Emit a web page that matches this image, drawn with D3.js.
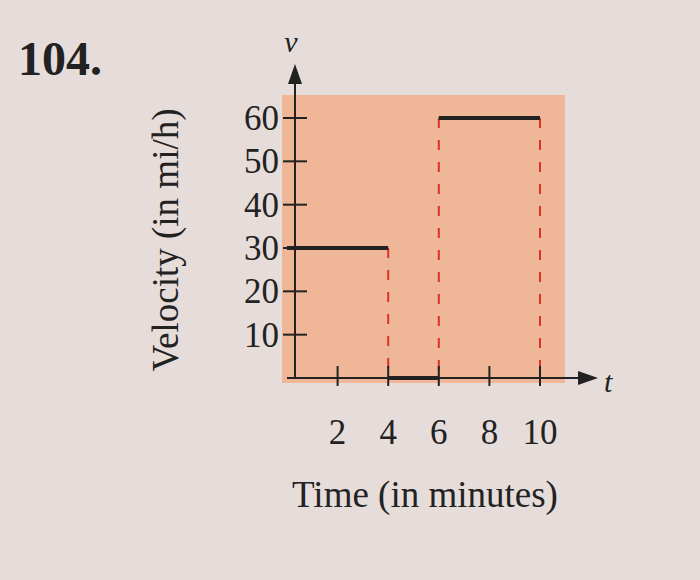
<!DOCTYPE html><html><head><script src="https://d3js.org/d3.v7.min.js"></script>
<style>body{margin:0;background:#e6dcd9}</style></head><body><script>
const xTicks=[2,4,6,8,10];
const yTicks=[10,20,30,40,50,60];
const segStart=[0,4,6];
const segEnd=[4,6,10];
const segVal=[30,0,60];
const dashedAt=[4,6,10];
const W=700,H=580;
const svg=d3.select("body").append("svg").attr("width",W).attr("height",H).style("font-family","Liberation Serif");
svg.append("rect").attr("width",W).attr("height",H).attr("fill","#e6dcd9");
const x=d3.scaleLinear().domain([0,10]).range([287,540]);
const y=d3.scaleLinear().domain([0,60]).range([378,118]);
svg.append("rect").attr("x",282).attr("y",95).attr("width",283).attr("height",288).attr("fill","#efb697");
svg.append("text").attr("x",18).attr("y",75).attr("font-size",48).attr("font-weight","bold").attr("fill","#222").text("104.");
dashedAt.forEach((d,i)=>svg.append("line").attr("x1",x(d)).attr("x2",x(d)).attr("y1",y(segVal[i===0?0:2])).attr("y2",y(0)).attr("stroke","#e0302a").attr("stroke-width",2).attr("stroke-dasharray","10,12"));
const g=svg.append("g").attr("stroke","#222").attr("stroke-width",2);
g.append("line").attr("x1",x(0)).attr("x2",585).attr("y1",y(0)).attr("y2",y(0));
g.append("line").attr("x1",x(0)+8).attr("x2",x(0)+8).attr("y1",y(0)).attr("y2",78);
svg.append("path").attr("d",`M${x(0)+8},64 L${x(0)+1},84 L${x(0)+15},84Z`).attr("fill","#222");
svg.append("path").attr("d",`M598,${y(0)} L578,${y(0)-7} L578,${y(0)+7}Z`).attr("fill","#222");
yTicks.forEach(t=>{g.append("line").attr("x1",x(0)-4).attr("x2",x(0)+20).attr("y1",y(t)).attr("y2",y(t));
 svg.append("text").attr("x",x(0)-8).attr("y",y(t)+12).attr("text-anchor","end").attr("font-size",35).attr("fill","#222").text(t);});
xTicks.forEach(t=>{g.append("line").attr("x1",x(t)).attr("x2",x(t)).attr("y1",y(0)-12).attr("y2",y(0)+8);
 svg.append("text").attr("x",x(t)).attr("y",444).attr("text-anchor","middle").attr("font-size",35).attr("fill","#222").text(t);});
segStart.forEach((s,i)=>svg.append("line").attr("x1",x(s)).attr("x2",x(segEnd[i])).attr("y1",y(segVal[i])).attr("y2",y(segVal[i])).attr("stroke","#222").attr("stroke-width",4));
svg.append("text").attr("x",291).attr("y",52).attr("font-size",30).attr("font-style","italic").attr("text-anchor","middle").attr("fill","#222").text("v");
svg.append("text").attr("x",604).attr("y",392).attr("font-size",30).attr("font-style","italic").attr("fill","#222").text("t");
svg.append("text").attr("x",425).attr("y",507).attr("font-size",37).attr("text-anchor","middle").attr("fill","#222").text("Time (in minutes)");
svg.append("text").attr("transform","translate(178,240) rotate(-90)").attr("font-size",37).attr("text-anchor","middle").attr("fill","#222").text("Velocity (in mi/h)");
</script></body></html>
